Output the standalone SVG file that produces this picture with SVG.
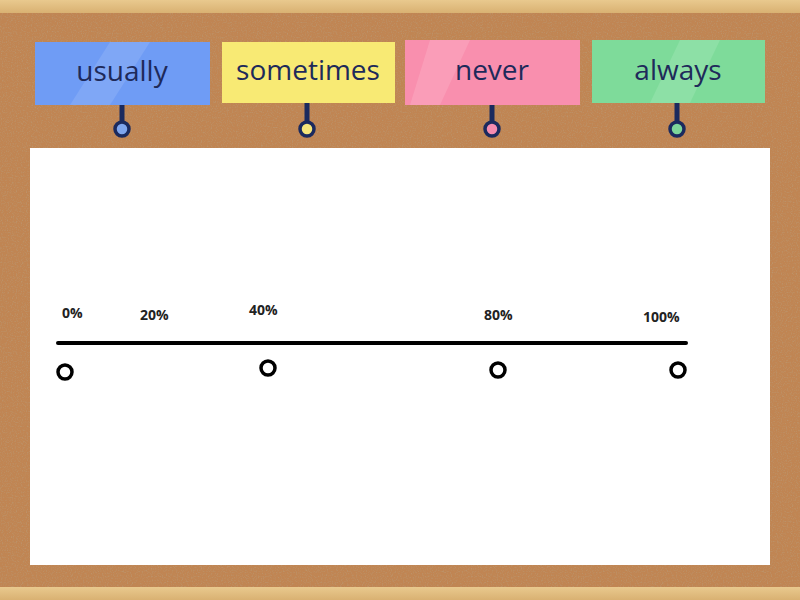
<svg xmlns="http://www.w3.org/2000/svg" width="800" height="600" viewBox="0 0 800 600">
<defs>
<filter id="cork" x="0" y="0" width="100%" height="100%">
<feTurbulence type="fractalNoise" baseFrequency="0.8" numOctaves="2" seed="3" result="n"/>
<feColorMatrix in="n" type="matrix" values="0 0 0 0 0.5  0 0 0 0 0.3  0 0 0 0 0.15  2.2 0 0 0 -1.05" result="d"/>
<feComposite in="d" in2="SourceGraphic" operator="over"/>
</filter>
<linearGradient id="wood" x1="0" y1="0" x2="0" y2="1">
<stop offset="0" stop-color="#e9c98e"/>
<stop offset="1" stop-color="#d9b172"/>
</linearGradient>
<style>
.note-text{font-family:"Open Sans","Lato",sans-serif;font-size:28px;fill:#1e2a5a;text-anchor:middle}
.pct{font-family:"Open Sans","Liberation Sans",sans-serif;font-size:14px;font-weight:bold;fill:#222}
.stem{stroke:#1b2a5e;stroke-width:5}
.pin{stroke:#1b2a5e;stroke-width:3.5}
.ring{fill:none;stroke:#000;stroke-width:3.5}
</style>
</defs>
<rect x="0" y="0" width="800" height="600" fill="#c08552" filter="url(#cork)"/>
<rect x="0" y="0" width="800" height="13" fill="url(#wood)"/>
<rect x="0" y="587" width="800" height="13" fill="url(#wood)"/>
<rect x="30" y="148" width="740" height="417" fill="#ffffff"/>

<g id="note-usually">
<rect x="35" y="42" width="175" height="63" fill="#6f9cf5"/>
<polygon points="110,42 150,42 110,105 70,105" fill="#8fb2f7" opacity="0.5"/>
<text class="note-text" x="122" y="81">usually</text>
<line class="stem" x1="122" y1="105" x2="122" y2="122"/>
<circle class="pin" cx="122" cy="129" r="7" fill="#7fa6ee"/>
</g>
<g id="note-sometimes">
<rect x="222" y="42" width="173" height="61" fill="#f8ea74"/>
<text class="note-text" x="308" y="80">sometimes</text>
<line class="stem" x1="307" y1="103" x2="307" y2="122"/>
<circle class="pin" cx="307" cy="129" r="7" fill="#f6e67a"/>
</g>
<g id="note-never">
<rect x="405" y="40" width="175" height="65" fill="#f98fae"/>
<polygon points="430,40 470,40 440,105 410,105" fill="#fbabc2" opacity="0.5"/>
<text class="note-text" x="492" y="80">never</text>
<line class="stem" x1="492" y1="105" x2="492" y2="122"/>
<circle class="pin" cx="492" cy="129" r="7" fill="#f58cb0"/>
</g>
<g id="note-always">
<rect x="592" y="40" width="173" height="63" fill="#7edb9a"/>
<polygon points="680,40 720,40 690,103 650,103" fill="#9ce6b2" opacity="0.5"/>
<text class="note-text" x="678" y="80">always</text>
<line class="stem" x1="677" y1="103" x2="677" y2="122"/>
<circle class="pin" cx="677" cy="129" r="7" fill="#7dd69a"/>
</g>

<g id="scale">
<line x1="58" y1="343" x2="686" y2="343" stroke="#000" stroke-width="4" stroke-linecap="round"/>
<text class="pct" x="62" y="318">0%</text>
<text class="pct" x="140" y="320">20%</text>
<text class="pct" x="249" y="315">40%</text>
<text class="pct" x="484" y="320">80%</text>
<text class="pct" x="643" y="322">100%</text>
<circle class="ring" cx="65" cy="372" r="7"/>
<circle class="ring" cx="268" cy="368" r="7"/>
<circle class="ring" cx="498" cy="370" r="7"/>
<circle class="ring" cx="678" cy="370" r="7"/>
</g>
</svg>
